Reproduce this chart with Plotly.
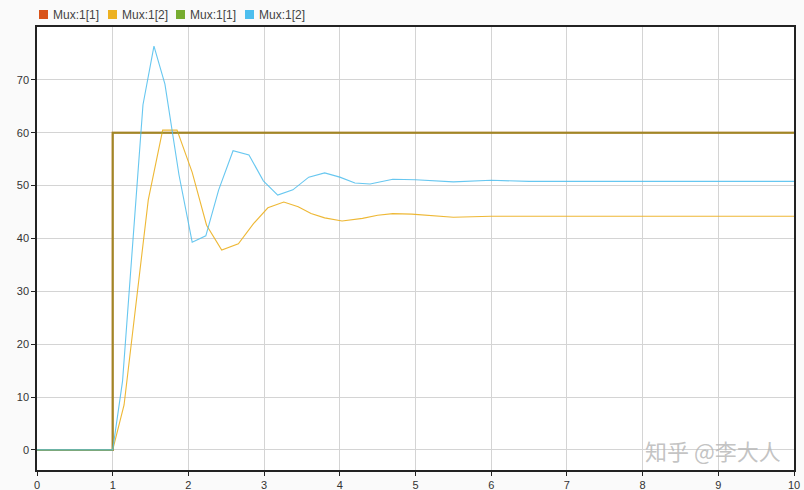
import plotly.graph_objects as go

# Step references (Mux:1[1], both signals)
step_t = [0, 1, 1, 10]
step_v = [0, 0, 60, 60]

# Output 1 (yellow, Mux:1[2])
y1_t = [0, 1.0, 1.15, 1.47, 1.66, 1.85, 2.05, 2.24, 2.44, 2.66, 2.86, 3.05, 3.26, 3.45, 3.62, 3.80, 4.03, 4.3, 4.5, 4.7, 4.95, 5.2, 5.5, 6.0, 7.0, 10.0]
y1_v = [0, 0, 8.5, 47.3, 60.5, 60.5, 52.5, 42.5, 37.8, 39.0, 42.8, 45.8, 46.9, 46.0, 44.7, 43.9, 43.3, 43.8, 44.4, 44.7, 44.6, 44.3, 44.0, 44.2, 44.2, 44.2]

# Output 2 (blue, Mux:1[2])
y2_t = [0, 1.0, 1.13, 1.40, 1.545, 1.69, 1.876, 2.05, 2.23, 2.40, 2.59, 2.80, 2.99, 3.18, 3.38, 3.59, 3.80, 4.0, 4.2, 4.40, 4.7, 5.0, 5.5, 6.0, 6.5, 10.0]
y2_v = [0, 0, 13.0, 65.3, 76.4, 69.2, 52.0, 39.3, 40.5, 49.2, 56.6, 55.8, 50.9, 48.2, 49.2, 51.6, 52.4, 51.6, 50.5, 50.3, 51.2, 51.1, 50.7, 51.0, 50.8, 50.8]

legend_names = ["Mux:1[1]", "Mux:1[2]", "Mux:1[1]", "Mux:1[2]"]
colors = ["#D95319", "#EDB120", "#77AC30", "#4DBEEE"]

x_ticks = list(range(0, 11))
y_ticks = list(range(0, 80, 10))

W, H = 804, 490
ML, MR, MT, MB = 37, 10, 27, 20
PW, PH = W - ML - MR, H - MT - MB

fig = go.Figure()

fig.add_trace(go.Scatter(x=step_t, y=step_v, mode="lines", line=dict(color=colors[0], width=2), showlegend=False))
fig.add_trace(go.Scatter(x=y1_t, y=y1_v, mode="lines", line=dict(color=colors[1], width=1.1), opacity=0.9, showlegend=False))
fig.add_trace(go.Scatter(x=step_t, y=step_v, mode="lines", line=dict(color=colors[2], width=2), opacity=0.6, showlegend=False))
fig.add_trace(go.Scatter(x=y2_t, y=y2_v, mode="lines", line=dict(color=colors[3], width=1.1), opacity=0.85, showlegend=False))

# manual legend (square swatches + labels) above the plot
item_x = [39, 108, 176, 245]
for px, name, c in zip(item_x, legend_names, colors):
    fig.add_shape(type="rect", xref="paper", yref="paper",
                  x0=(px - ML) / PW, x1=(px + 9 - ML) / PW,
                  y0=(H - MB - 19) / PH, y1=(H - MB - 10) / PH,
                  fillcolor=c, line=dict(width=0))
    fig.add_annotation(text=name, xref="paper", yref="paper",
                       x=(px + 12 - ML) / PW, y=(H - MB - 14.5) / PH,
                       xanchor="left", yanchor="middle", showarrow=False,
                       font=dict(family="Liberation Sans, Arial", size=12, color="#444"))

fig.add_annotation(text="知乎 @李大人", xref="paper", yref="paper", x=0.985, y=0.005,
                   xanchor="right", yanchor="bottom", showarrow=False,
                   font=dict(family="Noto Sans CJK SC", size=22, color="rgba(180,180,180,0.8)"))

fig.update_layout(
    width=W, height=H,
    margin=dict(l=ML, r=MR, t=MT, b=MB, autoexpand=False),
    paper_bgcolor="#fafafa",
    plot_bgcolor="white",
    font=dict(family="Liberation Sans, Arial", size=11, color="#333"),
    showlegend=False,
)
fig.update_xaxes(range=[0, 10], tickvals=x_ticks, showgrid=True, gridcolor="#d4d4d4",
                 showline=True, linecolor="#222", linewidth=1.5, mirror=True, automargin=False,
                 ticks="outside", ticklen=4, tickcolor="#222", zeroline=False)
fig.update_yaxes(range=[-3.8, 80], tickvals=y_ticks, showgrid=True, gridcolor="#d4d4d4",
                 showline=True, linecolor="#222", linewidth=1.5, mirror=True, automargin=False,
                 ticks="outside", ticklen=4, tickcolor="#222", zeroline=False)

fig.write_html("out.html", config={"displayModeBar": False},
               post_script="document.body.style.margin='0';document.body.style.padding='0';"
                           "document.body.style.overflow='hidden';document.body.style.background='#fafafa';")
